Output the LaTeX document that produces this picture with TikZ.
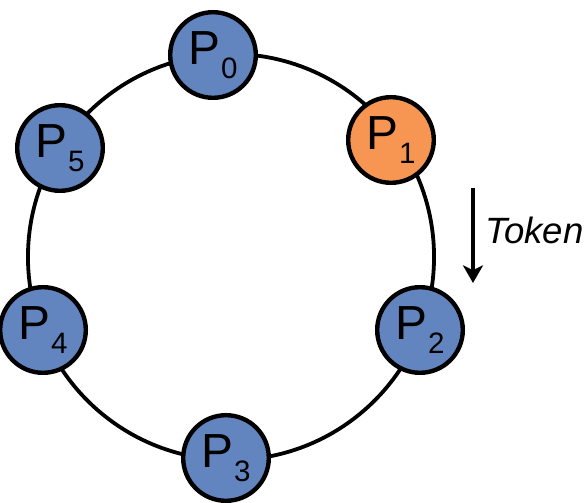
\documentclass[tikz,border=0pt]{standalone}
\usepackage{fontspec}
\setmainfont{Liberation Sans}
\usetikzlibrary{arrows.meta}
\definecolor{ProcBlue}{RGB}{98,133,191}
\definecolor{ProcOrange}{RGB}{247,150,82}
\newcommand{\proc}[1]{P\kern0.02em\raisebox{-0.3em}{\fontsize{21}{21}\selectfont #1}}

\begin{document}
\begin{tikzpicture}[x=0.025cm,y=-0.025cm,
    proc/.style={circle,draw=black,line width=0.11cm,fill=ProcBlue,
                 minimum size=2.14cm,inner sep=0pt,font=\fontsize{34}{34}\selectfont},
    ring/.style={draw=black,line width=0.095cm},
    tok/.style={-{Stealth[length=0.44cm,width=0.5cm,inset=0.12cm]},black,line width=0.1cm}
  ]
    \useasboundingbox (0,0) rectangle (586,503);
    % ring of processes
    \draw[ring] (231,257) circle[radius=5.075cm];
    \node[proc] (P0) at (213,55) {\proc{0}};
    \node[proc,fill=ProcOrange] (P1) at (391,140) {\proc{1}};
    \node[proc] (P2) at (420,330) {\proc{2}};
    \node[proc] (P3) at (226,458) {\proc{3}};
    \node[proc] (P4) at (43,330) {\proc{4}};
    \node[proc] (P5) at (60,148) {\proc{5}};
    % token passing
    \coordinate (tokTop) at (473,188);
    \coordinate (tokBot) at (473,283);
    \draw[tok] (tokTop) -- node[pos=0.45,right=4pt,font=\fontsize{26}{26}\selectfont\itshape,text=black]{Token} (tokBot);
  \end{tikzpicture}
\end{document}
